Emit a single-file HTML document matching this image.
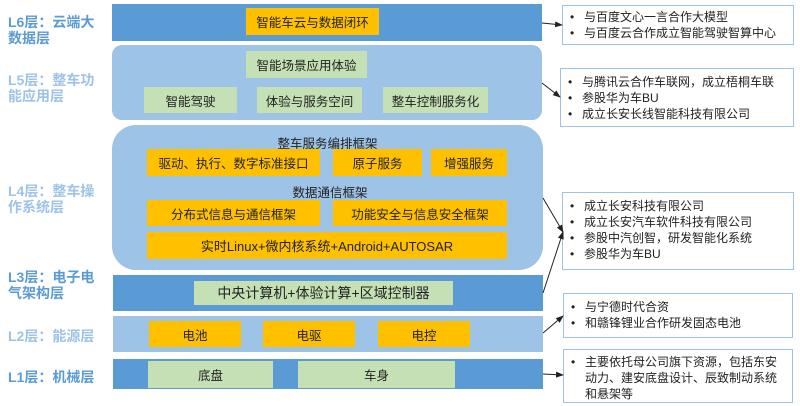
<!DOCTYPE html>
<html><head><meta charset="utf-8"><style>
body{margin:0;width:800px;height:406px;background:#fff;position:relative;overflow:hidden;font-family:"Liberation Sans","Noto Sans CJK SC",sans-serif;}
.a{position:absolute;box-sizing:border-box;}
.d{background:#5b9bd5;}
.l{background:#9dc3e6;}
.y{background:#ffc000;}
.g{background:#c5e0b4;}
.b{display:flex;align-items:center;justify-content:center;font-size:12.5px;color:#222;}
.lab{position:absolute;left:8px;font-weight:bold;font-size:14px;line-height:16px;}
.rb{position:absolute;border:1.5px solid #9dc3e6;background:#fff;font-size:12px;color:#222;line-height:16px;padding:3px 0 0 0;box-sizing:border-box;white-space:nowrap;}
.rb div{position:relative;padding-left:21px;}
.rb div.p:before{content:"•";position:absolute;left:7px;top:0;}
</style></head><body>
<div class="lab" style="top:14px;color:#5b9bd5">L6层：云端大<br>数据层</div>
<div class="lab" style="top:72px;color:#9dc3e6">L5层：整车功<br>能应用层</div>
<div class="lab" style="top:183px;color:#9dc3e6">L4层：整车操<br>作系统层</div>
<div class="lab" style="top:269px;color:#5b9bd5">L3层：电子电<br>气架构层</div>
<div class="lab" style="top:328px;color:#9dc3e6">L2层：能源层</div>
<div class="lab" style="top:369px;color:#5b9bd5">L1层：机械层</div>

<div class="a d" style="left:112px;top:4px;width:430px;height:37px"></div>
<div class="a y b" style="left:246px;top:8px;width:133px;height:27px">智能车云与数据闭环</div>

<div class="a l" style="left:112px;top:45px;width:430px;height:75px;border-radius:10px"></div>
<div class="a g b" style="left:246px;top:51px;width:121px;height:27px">智能场景应用体验</div>
<div class="a g b" style="left:144px;top:87px;width:93px;height:26px">智能驾驶</div>
<div class="a g b" style="left:257px;top:87px;width:105px;height:26px">体验与服务空间</div>
<div class="a g b" style="left:383px;top:87px;width:105px;height:26px">整车控制服务化</div>

<div class="a l" style="left:112px;top:125px;width:431px;height:145px;border-radius:24px"></div>
<div class="a b" style="left:112px;top:134px;width:431px;height:16px">整车服务编排框架</div>
<div class="a y b" style="left:147px;top:149px;width:173px;height:27px">驱动、执行、数字标准接口</div>
<div class="a y b" style="left:333px;top:149px;width:89px;height:27px">原子服务</div>
<div class="a y b" style="left:431px;top:149px;width:76px;height:27px">增强服务</div>
<div class="a b" style="left:200px;top:183px;width:260px;height:16px">数据通信框架</div>
<div class="a y b" style="left:147px;top:200px;width:173px;height:26px">分布式信息与通信框架</div>
<div class="a y b" style="left:333px;top:200px;width:174px;height:26px">功能安全与信息安全框架</div>
<div class="a y b" style="left:147px;top:232px;width:360px;height:27px;font-size:13px">实时Linux+微内核系统+Android+AUTOSAR</div>

<div class="a d" style="left:113px;top:275px;width:430px;height:36px"></div>
<div class="a g b" style="left:194px;top:281px;width:259px;height:24px;font-size:14px">中央计算机+体验计算+区域控制器</div>

<div class="a l" style="left:113px;top:316px;width:430px;height:36px"></div>
<div class="a y b" style="left:149px;top:321px;width:92px;height:26px">电池</div>
<div class="a y b" style="left:263px;top:321px;width:92px;height:26px">电驱</div>
<div class="a y b" style="left:378px;top:321px;width:92px;height:26px">电控</div>

<div class="a d" style="left:113px;top:359px;width:430px;height:30px"></div>
<div class="a g b" style="left:148px;top:361px;width:125px;height:27px">底盘</div>
<div class="a g b" style="left:298px;top:361px;width:157px;height:27px">车身</div>

<div class="rb" style="left:562px;top:5px;width:232px;height:40px"><div class="p">与百度文心一言合作大模型</div><div class="p">与百度云合作成立智能驾驶智算中心</div></div>
<div class="rb" style="left:560px;top:68px;width:234px;height:59px;padding-top:5px"><div class="p">与腾讯云合作车联网，成立梧桐车联</div><div class="p">参股华为车BU</div><div class="p">成立长安长线智能科技有限公司</div></div>
<div class="rb" style="left:562px;top:192px;width:232px;height:78px;padding-top:5px"><div class="p">成立长安科技有限公司</div><div class="p">成立长安汽车软件科技有限公司</div><div class="p">参股中汽创智，研发智能化系统</div><div class="p">参股华为车BU</div></div>
<div class="rb" style="left:563px;top:293px;width:230px;height:45px;padding-top:5px"><div class="p">与宁德时代合资</div><div class="p">和赣锋锂业合作研发固态电池</div></div>
<div class="rb" style="left:563px;top:349px;width:230px;height:54px;padding-top:4px"><div class="p">主要依托母公司旗下资源，包括东安</div><div>动力、建安底盘设计、辰致制动系统</div><div>和悬架等</div></div>

<svg class="a" style="left:0;top:0" width="800" height="406">
<defs><marker id="m" markerWidth="8" markerHeight="8" refX="7" refY="4" orient="auto" markerUnits="userSpaceOnUse"><path d="M0,1 L8,4 L0,7z" fill="#222"/></marker></defs>
<g stroke="#222" stroke-width="1" fill="none" marker-end="url(#m)">
<line x1="542" y1="23" x2="562" y2="25"/>
<line x1="542" y1="83" x2="560" y2="97"/>
<line x1="543" y1="198" x2="563" y2="232"/>
<line x1="543" y1="293" x2="563" y2="232"/>
<line x1="543" y1="333" x2="563" y2="316"/>
<line x1="543" y1="374" x2="563" y2="375"/>
</g></svg>
</body></html>
